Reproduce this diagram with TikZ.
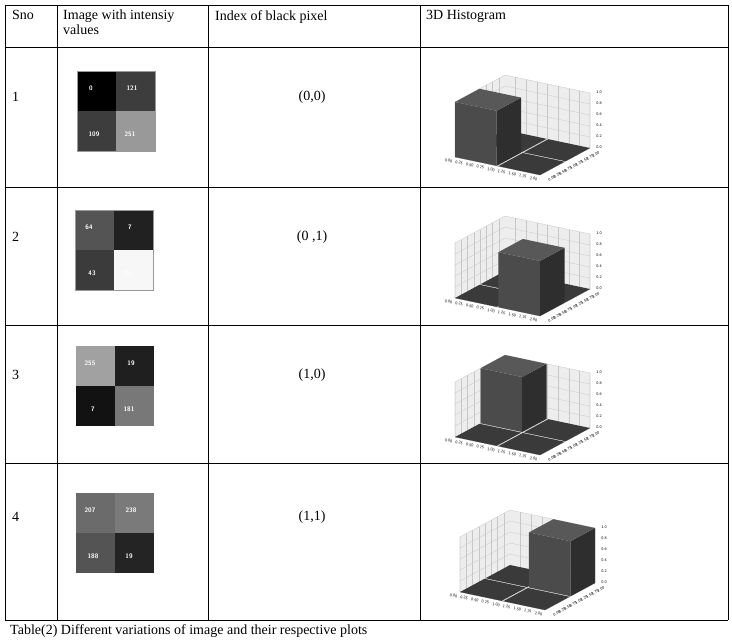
\documentclass[tikz,border=0pt]{standalone}
\usepackage{fontspec}
\setmainfont{Liberation Serif}
\usetikzlibrary{calc}
\newcommand\hp[3]{({85*(#1)+50*(#2)},{18*(#1)-27*(#2)-55*(#3)})}
\newcommand\cellfaces[5]{% u0 v0 u1 v1 h
 \ifdim #5pt>0pt
  \fill[fill=barF] \hp{#1}{#2}{0}--\hp{#3}{#2}{0}--\hp{#3}{#2}{#5}--\hp{#1}{#2}{#5}--cycle;
  \fill[fill=barR] \hp{#3}{#2}{0}--\hp{#3}{#4}{0}--\hp{#3}{#4}{#5}--\hp{#3}{#2}{#5}--cycle;
  \fill[fill=barT] \hp{#1}{#2}{#5}--\hp{#3}{#2}{#5}--\hp{#3}{#4}{#5}--\hp{#1}{#4}{#5}--cycle;
 \else
  \fill[fill=tile] \hp{#1}{#2}{0}--\hp{#3}{#2}{0}--\hp{#3}{#4}{0}--\hp{#1}{#4}{0}--cycle;
 \fi}
% #1..#4 heights of cells (0,0),(1,0),(0,1),(1,1)
\newcommand\histo[4]{%
 \fill[pane] \hp{0}{0}{0}--\hp{0}{1}{0}--\hp{0}{1}{1}--\hp{0}{0}{1}--cycle;
 \fill[pane] \hp{0}{1}{0}--\hp{1}{1}{0}--\hp{1}{1}{1}--\hp{0}{1}{1}--cycle;
 \fill[black!4] \hp{0}{0}{0}--\hp{1}{0}{0}--\hp{1}{1}{0}--\hp{0}{1}{0}--cycle;
 \foreach \t in {0.125,0.25,...,0.9}{
  \draw[gridl] \hp{0}{\t}{0}--\hp{0}{\t}{1};
  \draw[gridl] \hp{\t}{1}{0}--\hp{\t}{1}{1};
  \draw[gridl] \hp{\t}{0}{0}--\hp{\t}{1}{0};
  \draw[gridl] \hp{0}{\t}{0}--\hp{1}{\t}{0};}
 \foreach \t in {0.2,0.4,...,1.0}{
  \draw[gridl] \hp{0}{0}{\t}--\hp{0}{1}{\t}--\hp{1}{1}{\t};}
 \draw[black!45,line width=0.4pt] \hp{0}{0}{1}--\hp{0}{0}{0}--\hp{1}{0}{0}--\hp{1}{1}{0}--\hp{1}{1}{1};
 \cellfaces{0}{0.51}{0.49}{1}{#3}
 \cellfaces{0.51}{0.51}{1}{1}{#4}
 \cellfaces{0}{0}{0.49}{0.49}{#1}
 \cellfaces{0.51}{0}{1}{0.49}{#2}
 \foreach \z [count=\k from 0] in {0.0,0.2,0.4,0.6,0.8,1.0}{
  \node[tk,anchor=west] at \hp{1.06}{1.02}{\k/5+0.02} {\z};}
 \foreach \z [count=\k from 0] in {0.00,0.25,0.50,0.75,1.00,1.25,1.50,1.75,2.00}{
  \node[tk,rotate=-12] at \hp{\k/8}{-0.13}{0} {\z};}
 \foreach \z [count=\k from 0] in {0.00,0.25,0.50,0.75,1.00,1.25,1.50,1.75,2.00}{
  \node[tk,rotate=32] at \hp{1.15}{\k/8*0.88-0.02}{0} {\z};}
}
\newcommand\img[9]{%
 \fill[fill=black!#2] (#1) rectangle ++(39,40); \fill[fill=black!#3] ($(#1)+(39,0)$) rectangle ++(39,40);
 \fill[fill=black!#4] ($(#1)+(0,40)$) rectangle ++(39,40); \fill[fill=black!#5] ($(#1)+(39,40)$) rectangle ++(39,40);
 \node[num] at ($(#1)+(14,17)$) {#6}; \node[num] at ($(#1)+(55,17)$) {#7};
 \node[num] at ($(#1)+(17,63)$) {#8}; \node[num] at ($(#1)+(53,63)$) {#9};}
\begin{document}
\begin{tikzpicture}[x=1pt,y=-1pt,
 txt/.style={font=\fontsize{14}{15}\selectfont,inner sep=0pt},
 num/.style={font=\sffamily\bfseries\fontsize{6.5}{7}\selectfont,text=white,inner sep=0pt},
 tk/.style={font=\sffamily\fontsize{4}{4}\selectfont,inner sep=0pt},
 pane/.style={fill=black!7}, gridl/.style={black!22,line width=0.3pt}]
\definecolor{barF}{HTML}{4B4B4B}\definecolor{barR}{HTML}{2E2E2E}
\definecolor{barT}{HTML}{585858}\definecolor{tile}{HTML}{3A3A3A}
\fill[white] (0,0) rectangle (732,643);
% table grid
\foreach \y in {5,47,187,325,463,620} \draw[line width=0.7pt] (5,\y)--(728,\y);
\foreach \x in {5,57,208,420,728} \draw[line width=0.7pt] (\x,5)--(\x,620);
\node[txt,anchor=north west] (h1) at (12,10) {Sno};
\node[txt,anchor=north west,align=left] (h2) at (63,10) {Image with intensiy\\values};
\node[txt,anchor=north west] (h3) at (215,10) {Index of black pixel};
\node[txt,anchor=north west] (h4) at (426,10) {3D Histogram};
\foreach \n/\y/\idx in {1/97/{(0,0)},2/237/{(0 ,1)},3/375/{(1,0)},4/517/{(1,1)}}{
 \node[txt,anchor=west] (s\n) at (12,\y) {\n};
 \node[txt] (i\n) at (312,\y) {\idx};}
% images
\coordinate (p1) at (77,71); \coordinate (p2) at (75,210);
\coordinate (p3) at (76,346); \coordinate (p4) at (76,493);
\img{p1}{100}{76}{76}{40}{0}{121}{109}{251}
\img{p2}{67}{87}{77}{3}{64}{7}{43}{251}
\img{p3}{37}{88}{93}{53}{255}{19}{7}{181}
\img{p4}{58}{52}{67}{86}{207}{238}{188}{19}
\draw[black!40,line width=0.4pt] (p1) rectangle ++(78,80);
\draw[black!40,line width=0.4pt] (p2) rectangle ++(78,80);
% histograms
\begin{scope}[shift={(455,157)}]\histo{1}{0}{0}{0}\end{scope}
\begin{scope}[shift={(455,298)}]\histo{0}{1}{0}{0}\end{scope}
\begin{scope}[shift={(455,437)}]\histo{0}{0}{1}{0}\end{scope}
\begin{scope}[shift={(460,592)}]\histo{0}{0}{0}{1}\end{scope}
\node[txt,anchor=west] (cap) at (10,631) {Table(2) Different variations of image and their respective plots};
\end{tikzpicture}
\end{document}
